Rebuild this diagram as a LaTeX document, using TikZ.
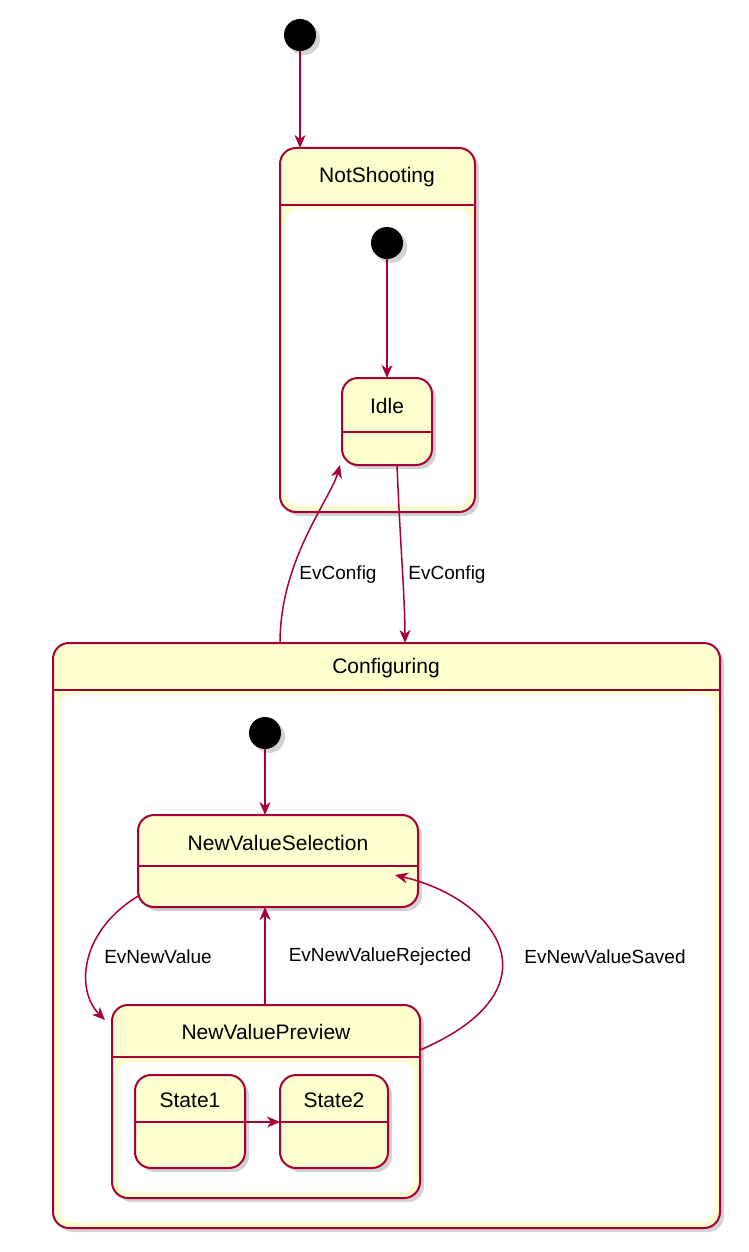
\documentclass[tikz,border=0pt]{standalone}
\usepackage{fontspec}
\setmainfont{Liberation Sans}
\usetikzlibrary{positioning,arrows.meta,shadows}
\definecolor{umlred}{HTML}{A80036}
\definecolor{umlfill}{HTML}{FEFECE}
\tikzset{
  state/.style={draw=umlred, fill=umlfill, line width=2pt, rounded corners=16pt,
    drop shadow={shadow xshift=4pt, shadow yshift=-4pt, opacity=0.35}},
  inner/.style={fill=white, rounded corners=12pt},
  sep/.style={draw=umlred, line width=2pt},
  start/.style={circle, fill=black, minimum size=32pt, inner sep=0pt,
    drop shadow={shadow xshift=4pt, shadow yshift=-4pt, opacity=0.35}},
  trans/.style={draw=umlred, line width=1.5pt, -{Stealth[length=13pt,width=11pt,inset=4pt]}},
  lbl/.style={font=\fontsize{19}{21}\selectfont, inner sep=2pt},
  title/.style={font=\fontsize{21}{23}\selectfont}
}
\begin{document}
\begin{tikzpicture}[x=1pt,y=-1pt]
\useasboundingbox (0,0) rectangle (748,1252);

% composite states
\draw[state] (280,148) rectangle (475,512);
\fill[inner] (286,209) rectangle (469,506);
\draw[sep] (280,205) -- (475,205);
\node[title] at (377,177) (nsT) {NotShooting};
\coordinate (nsTop) at (300,148);

\draw[state] (53,643) rectangle (720,1228);
\fill[inner] (59,694) rectangle (714,1222);
\draw[sep] (53,690) -- (720,690);
\node[title] at (386,668) (cfT) {Configuring};

% initial points
\node[start] at (300,35) (init) {};
\node[start] at (387,243) (initNS) {};
\node[start] at (265,733) (initCF) {};

% Idle
\draw[state] (342,378) rectangle (432,465);
\draw[sep] (342,432) -- (432,432);
\node[title] at (387,406) {Idle};

% NewValueSelection
\draw[state] (138,815) rectangle (418,907);
\draw[sep] (138,866) -- (418,866);
\node[title] at (278,843) {NewValueSelection};

% NewValuePreview
\draw[state] (112,1005) rectangle (420,1198);
\fill[inner] (118,1062) rectangle (414,1192);
\draw[sep] (112,1057) -- (420,1057);
\node[title] at (266,1032) {NewValuePreview};

% State1 / State2
\draw[state] (135,1075) rectangle (245,1168);
\draw[sep] (135,1122) -- (245,1122);
\node[title] at (190,1100) {State1};
\draw[state] (280,1075) rectangle (388,1168);
\draw[sep] (280,1122) -- (388,1122);
\node[title] at (334,1100) {State2};

% transitions
\draw[trans] (init) -- (nsTop);
\draw[trans] (initNS) -- (387,378);
\draw[trans] (397,465) .. controls (400,540) and (405,600) .. (405,643);
\node[lbl] at (447,575) {EvConfig};
\draw[trans] (280,643) .. controls (280,560) and (330,500) .. (340,465);
\node[lbl] at (338,575) {EvConfig};
\draw[trans] (initCF) -- (265,815);
\draw[trans] (140,895) .. controls (80,930) and (75,990) .. (105,1020);
\node[lbl] at (158,957) {EvNewValue};
\draw[trans] (265,1005) -- (265,907);
\node[lbl] at (380,957) {EvNewValueRejected};
\draw[trans] (420,1050) .. controls (560,990) and (500,900) .. (395,875);
\node[lbl] at (605,957) {EvNewValueSaved};
\draw[trans] (245,1122) -- (280,1122);
\end{tikzpicture}
\end{document}
